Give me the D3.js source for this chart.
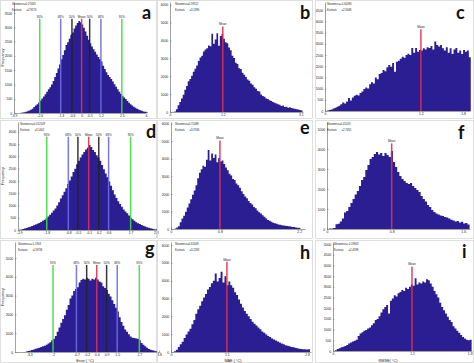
<!DOCTYPE html>
<html lang="en">
<head>
<meta charset="UTF-8">
<title>Error distributions</title>
<style>
    body { margin: 0; background: #fff; }
    svg { display: block; font-family: "Liberation Sans", Arial, sans-serif; }
</style>
</head>
<body>
<svg id="chart" width="474" height="363"></svg>
<script src="https://cdn.jsdelivr.net/npm/d3@7"></script>
<script>
// ---- bin counts ----
const aCounts = [10,20,30,45,60,85,110,150,210,260,310,370,440,510,580,660,740,830,900,1000,1120,1260,1400,1560,1700,1880,2030,2200,2380,2480,2600,2740,2820,2960,3060,3150,3220,3180,3100,2980,2850,2700,2560,2440,2330,2230,2140,2050,1960,1880,1800,1650,1540,1430,1330,1260,1190,1100,1010,920,830,740,670,600,540,490,420,360,310,260,220,180,150,120,95,75,55,40,25];
const bCounts = [30,150,380,560,760,960,1250,1450,1720,1850,2020,2250,2420,2600,2850,3050,3150,3380,3500,3560,3720,3680,4380,3820,4050,4400,3700,4250,4380,4100,3900,3850,3600,3450,3150,3020,2750,2680,2450,2400,2200,2080,1950,1820,1750,1600,1520,1380,1300,1180,1150,980,900,850,760,720,650,620,560,520,470,430,400,330,360,280,300,240,260,220,200,180,150,140,110,80];
const cCounts = [0,20,40,70,110,150,190,240,300,380,330,430,580,470,600,680,730,690,800,870,980,1050,1000,1200,1280,1230,1500,1420,1650,1700,1830,1780,1950,2050,1980,2150,1750,2200,2250,2330,2420,2380,2500,2560,2500,2820,2600,2820,2650,2720,2700,2800,2750,2850,2820,2900,2750,3100,2950,2880,2950,2800,2700,2850,2600,2800,2550,2750,2820,2600,2700,2550,2720,2650,2700,2400];
const dCounts = [20,40,60,80,110,130,160,190,220,250,290,330,380,420,480,550,620,700,790,880,1000,1130,1280,1420,1560,1700,1870,2020,2180,2360,2500,2680,2820,2950,3080,3180,3280,3350,3460,3380,3260,3180,3050,2950,2820,2650,2480,2300,2150,1980,1800,1620,1450,1300,1170,1060,950,840,750,680,590,500,440,380,320,280,240,200,170,140,110,90,70,50,35,20];
const eCounts = [30,80,150,380,600,760,980,1220,1450,1700,1950,2200,2500,2900,3200,3400,3600,3550,3950,4500,3900,4300,4050,4250,3800,4050,3850,3900,3700,3500,3350,3150,3050,2850,2800,2600,2500,2350,2150,2000,1850,1750,1600,1480,1400,1250,1180,1050,950,880,780,700,600,520,470,420,360,330,300,260,240,220,200,190,170,160,140,120,110,90,70,50];
const fCounts = [20,30,50,240,260,380,520,820,900,1100,1300,1500,1720,1900,2150,2450,2600,2950,3200,3500,3600,3750,3850,3720,3800,3650,3800,3700,3600,3900,3350,3100,2850,2650,2500,2400,2300,2250,2300,2150,2050,1950,1850,1650,1500,1380,1200,1100,950,850,780,720,680,650,600,580,520,460,420,380,400,330,360,280,300,220];
const gCounts = [30,50,70,100,130,170,200,230,260,300,330,380,450,520,620,700,850,1080,1300,1550,1750,1950,2250,2500,2850,3000,3250,3350,3450,3700,3830,3900,3850,3950,3900,3800,3900,3850,3950,3850,3750,3700,3500,3400,3300,3100,2950,2750,2550,2350,2150,1850,1600,1400,1200,1080,950,820,760,740,720,700,620,480,380,300,220,160,120,90,60,40];
const hCounts = [40,130,280,430,580,780,980,1150,1300,1550,1800,2150,2400,2600,2850,3050,3250,3500,3650,3850,4000,4400,3950,4150,4500,3900,4250,3750,3950,3750,3600,3350,3200,2950,2700,2500,2300,2150,2000,1850,1700,1580,1480,1380,1280,1150,1080,980,900,840,760,700,650,590,530,480,430,380,350,320,280,260,240,210,180,170,150,160,140,150];
const iCounts = [40,90,130,170,200,230,280,350,400,440,480,520,700,820,880,950,980,1050,1100,1200,1300,1450,1500,1620,1800,1950,2050,2150,1750,2350,2450,2600,2550,2700,2750,2850,2800,2950,2900,3000,3100,3050,3400,3100,3200,3150,3250,3200,3350,3300,3150,3000,2800,2650,2500,2250,2050,1900,1750,1600,1450,1350,1150,1050,950,850,750,650,580,520,500,520];

// first bin and bin width of each panel
const binStart = [-3.8, 0.10, 0.0, -2.85, 0.06, 0.025, -3.5, 0.06, 0.025];
const binStep  = [0.1, 0.04, 0.025, 0.075, 0.03, 0.025, 0.1, 0.04, 0.025];

// axis ranges
const xDomains = [[-4.2, 4.0], [0, 3.15], [0, 1.89], [-2.95, 2.85], [0, 2.3], [0, 1.68], [-4.08, 3.85], [0, 2.88], [0, 1.83]];
const yMax = [3885, 6150, 4870, 4400, 6100, 5350, 5850, 6170, 5090];
const yTickTop = [3500, 6000, 4500, 4000, 6000, 5000, 5000, 6000, 5000];
const yTickStep = [500, 1000, 500, 500, 1000, 1000, 1000, 1000, 500];

// x ticks: positions and the labels printed under them
const xTickValues = [
    [-4.2, -2.6, -1.3, -0.6, 0, 0.5, 1.2, 2.5, 4],
    [0, 1.25, 3.1],
    [0, 1.25, 1.8],
    [-2.9, -1.75, -0.85, -0.45, 0.0, 0.42, 0.83, 1.75, 2.8],
    [0, 0.84, 2.2],
    [0, 0.76, 1.6],
    [-3.3, -2.0, -0.72, -0.16, 0.39, 0.93, 1.51, 2.72, 3.8],
    [0, 1.15, 2.8],
    [0, 1.04, 1.8]
];
const xTickLabels = [
    ["-3.9", "-2.6", "-1.3", "-0.6", "0", "0.5", "1.2", "2.5", "4"],
    ["0", "1.2", "3.1"],
    ["0", "1.2", "1.8"],
    ["-2.9", "-1.8", "-0.8", "-0.5", "-0.1", "0.2", "0.6", "1.7", "2.8"],
    ["0", "0.8", "2.2"],
    ["0", "0.8", "1.6"],
    ["-3.3", "-2", "-0.7", "-0.2", "0.4", "0.9", "1.5", "2.7", "3.8"],
    ["0", "1.1", "2.8"],
    ["0", "1.1", "1.8"]
];

// vertical marker lines (interval bounds and mean) and how high they reach
const markers = [
    [-2.6, -1.3, -0.6, 0, 0.5, 1.2, 2.5],
    [1.25],
    [1.25],
    [-1.75, -0.85, -0.45, 0.0, 0.42, 0.83, 1.75],
    [0.84],
    [0.76],
    [-2.0, -0.72, -0.16, 0.39, 0.93, 1.51, 2.72],
    [1.15],
    [1.04]
];
const markerTop = [3300, 4780, 3650, 3800, 5050, 4280, 4630, 5060, 3940];
const intervalLabels = ["95%", "68%", "50%", "Mean", "50%", "68%", "95%"];

const skewness = ["0.27463", "0.59112", "-0.40284", "0.012509", "0.71088", "0.41203", "-0.1903", "0.62408", "-0.19663"];
const kurtosis = ["2.9274", "3.1396", "2.5648", "3.1402", "3.3746", "2.7455", "2.8736", "3.2283", "2.4598"];
const letters = ["a", "b", "c", "d", "e", "f", "g", "h", "i"];
const xTitles = ["", "", "", "", "", "", "Error ( \u00B0C)", "MAE ( \u00B0C)", "RMSE( \u00B0C)"];

const counts = [aCounts, bCounts, cCounts, dCounts, eCounts, fCounts, gCounts, hCounts, iCounts];

// ---- layout ----
const boxes = [
    {l: 14,  r: 146, t: 2,   b: 113},
    {l: 170, r: 303, t: 2,   b: 112},
    {l: 325, r: 470, t: 2,   b: 111},
    {l: 18,  r: 157, t: 122, b: 230},
    {l: 171, r: 305, t: 122, b: 229},
    {l: 327, r: 470, t: 122, b: 229},
    {l: 15,  r: 160, t: 242, b: 352},
    {l: 171, r: 311, t: 242, b: 352},
    {l: 333, r: 472, t: 242, b: 351}
];
const frames = [[0.5, 156.5], [157.5, 312.5], [315.5, 473.5]];
const frameRows = [[0.5, 118.5], [120.5, 238.5], [240.5, 362.5]];
const letterPos = [[142, 18.5], [300, 18.5], [456, 18.5], [146, 137.5], [300, 134], [458, 138.5], [145, 255], [300, 258.5], [462, 257.5]];
const statsX = [12, 175, 327, 20, 175, 327, 18, 175, 334];
const xTitleX = [0, 0, 0, 0, 0, 0, 85, 233, 388];

const barColor = "#2a1e92";
const intervalColors = ["#3fdc3f", "#6b6be2", "#222222", "#e0304c", "#222222", "#6b6be2", "#3fdc3f"];

const svg = d3.select("#chart");

counts.forEach((data, i) => {
    const box = boxes[i];
    const col = i % 3, row = Math.floor(i / 3);
    const x = d3.scaleLinear().domain(xDomains[i]).range([box.l, box.r]);
    const y = d3.scaleLinear().domain([0, yMax[i]]).range([box.b, box.t]);
    const g = svg.append("g");

    // light frame around each panel
    g.append("rect")
        .attr("x", frames[col][0]).attr("y", frameRows[row][0])
        .attr("width", frames[col][1] - frames[col][0])
        .attr("height", frameRows[row][1] - frameRows[row][0])
        .attr("fill", "none").attr("stroke", "#d8d8d8").attr("stroke-width", 0.8);

    // histogram as one stepped area so neighbouring bars leave no seams
    const bins = data.map((c, k) => ({x: binStart[i] + k * binStep[i], c}));
    bins.push({x: binStart[i] + data.length * binStep[i], c: data[data.length - 1]});
    const area = d3.area()
        .x(d => x(d.x))
        .y0(y(0))
        .y1(d => y(d.c))
        .curve(d3.curveStepAfter);
    g.append("path").datum(bins).attr("d", area).attr("fill", barColor);

    // marker lines
    const isInterval = markers[i].length > 1;
    const mk = g.selectAll("g.mk").data(markers[i]).join("g").attr("class", "mk");
    mk.append("line")
        .attr("x1", d => x(d)).attr("x2", d => x(d))
        .attr("y1", y(markerTop[i])).attr("y2", y(0))
        .attr("stroke", (d, k) => isInterval ? intervalColors[k] : "#e0304c")
        .attr("stroke-opacity", 0.9)
        .attr("stroke-width", 1.5);
    mk.append("text")
        .attr("x", d => x(d)).attr("y", y(markerTop[i]) - 1.2)
        .attr("text-anchor", "middle")
        .attr("font-size", 3)
        .attr("fill", "#222")
        .text((d, k) => isInterval ? intervalLabels[k] : "Mean");

    // axes
    const xAxis = d3.axisBottom(x)
        .tickValues(xTickValues[i])
        .tickFormat((d, k) => xTickLabels[i][k])
        .tickSizeInner(-1.5).tickSizeOuter(0).tickPadding(2);
    const gx = g.append("g").attr("transform", `translate(0,${box.b})`).call(xAxis);

    const yAxis = d3.axisLeft(y)
        .tickValues(d3.range(0, yTickTop[i] + 1, yTickStep[i]))
        .tickSizeInner(-1.5).tickSizeOuter(0).tickPadding(1.8)
        .tickFormat(d3.format("d"));
    const gy = g.append("g").attr("transform", `translate(${box.l},0)`).call(yAxis);

    [gx, gy].forEach(a => {
        a.select(".domain").attr("stroke", "#444").attr("stroke-width", 0.5);
        a.selectAll(".tick line").attr("stroke", "#444").attr("stroke-width", 0.4);
        a.selectAll("text").attr("font-size", 3.4).attr("fill", "#222")
            .attr("font-family", "Liberation Sans, Arial, sans-serif");
    });

    // skewness / kurtosis note
    const sy = frameRows[row][0];
    g.append("text").attr("x", statsX[i]).attr("y", sy + 4.8)
        .attr("font-size", 2.7).attr("fill", "#222").text("Skewness=" + skewness[i]);
    g.append("text").attr("x", statsX[i]).attr("y", sy + 10)
        .attr("font-size", 2.7).attr("fill", "#222").text("Kurtosis");
    g.append("text").attr("x", statsX[i] + 14.5).attr("y", sy + 10)
        .attr("font-size", 2.7).attr("fill", "#222").text("=" + kurtosis[i]);

    // y title on left column
    if (col === 0) {
        g.append("text")
            .attr("transform", `translate(4,${(box.t + box.b) / 2}) rotate(-90)`)
            .attr("text-anchor", "middle")
            .attr("font-size", 3.8).attr("fill", "#222")
            .text("Frequency");
    }
    if (xTitles[i]) {
        g.append("text")
            .attr("x", xTitleX[i]).attr("y", 361.5)
            .attr("text-anchor", "middle")
            .attr("font-size", 3.8).attr("fill", "#222")
            .text(xTitles[i]);
    }

    // panel letter
    g.append("text")
        .attr("x", letterPos[i][0]).attr("y", letterPos[i][1])
        .attr("font-family", "Lato, 'Open Sans', sans-serif")
        .attr("font-weight", "bold")
        .attr("font-size", 18)
        .attr("fill", "#111")
        .text(letters[i]);
});
</script>
</body>
</html>
